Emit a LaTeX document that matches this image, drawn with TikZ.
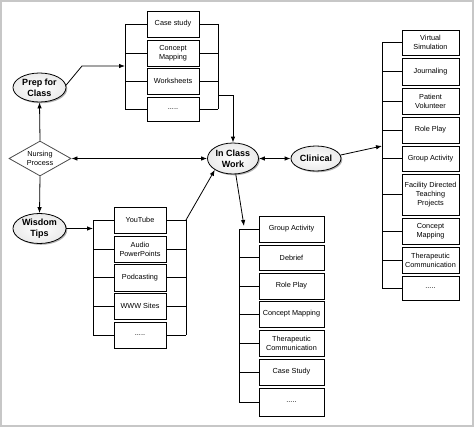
\documentclass[tikz,border=0pt]{standalone}
\usepackage{fontspec}
\setmainfont{Liberation Sans}
\usetikzlibrary{shapes.geometric,shadows,arrows.meta}
\tikzset{
  shadowed/.style={drop shadow={shadow xshift=1.3pt,shadow yshift=-1.3pt,fill=black!30,opacity=1}},
  item/.style={draw,fill=white,align=center,inner sep=1pt,shadowed,
    font=\fontsize{7.3}{9}\selectfont},
  topic/.style={ellipse,draw,inner sep=0pt,align=center,shadowed,
    inner color=white,outer color=black!8,font=\fontsize{9}{11}\selectfont\bfseries},
}
\begin{document}
\begin{tikzpicture}[x=1pt,y=-1pt,line width=0.8pt,>={Latex[length=6pt,width=4.5pt]}]
\useasboundingbox (0,0) rectangle (474,428);
\draw[black!22,line width=2pt] (1,1) rectangle (473,426);

\node[topic,minimum width=53pt,minimum height=29pt] (prep) at (39.5,87.5) {Prep for\\Class};
\node[diamond,draw=black!70,fill=white,aspect=1.77,minimum width=62pt,minimum height=35pt,
  inner sep=0pt,align=center,font=\fontsize{7.3}{9}\selectfont] (np) at (40,158.5) {Nursing\\Process};
\node[topic,minimum width=53pt,minimum height=30pt] (wis) at (39.5,228.5) {Wisdom\\Tips};
\node[topic,minimum width=51pt,minimum height=31pt] (icw) at (233,158.5) {In Class\\Work};
\node[topic,minimum width=50pt,minimum height=25pt] (cli) at (316,158.5) {Clinical};

\foreach \n/\y/\h/\t in {p1/24/26/Case study,p2/53/26/{Concept\\Mapping},p3/81/26/Worksheets,p4/109/24/{.....}}
  \node[item,minimum width=52pt,minimum height=\h] (\n) at (173,\y) {\t};
\foreach \n/\y/\h/\t in {w1/220/26/YouTube,w2/249/26/{Audio\\PowerPoints},w3/277.5/27/Podcasting,
    w4/306/26/WWW Sites,w5/335/26/{.....}}
  \node[item,minimum width=52pt,minimum height=\h] (\n) at (140,\y) {\t};
\foreach \n/\y/\h/\t in {i1/229/26/Group Activity,i2/257.5/25/Debrief,i3/286/26/Role Play,
    i4/314/26/Concept Mapping,i5/343/26/{Therapeutic\\Communication},i6/372/26/Case Study,i7/402/28/{.....}}
  \node[item,minimum width=65pt,minimum height=\h] (\n) at (291.5,\y) {\t};
\foreach \n/\y/\h/\t in {c1/42.5/25/{Virtual\\Simulation},c2/71.5/27/Journaling,c3/101/26/{Patient\\Volunteer},
    c4/130/26/Role Play,c5/158.5/25/Group Activity,c6/194.5/41/{Facility Directed\\Teaching\\Projects},
    c7/231/26/{Concept\\Mapping},c8/260/26/{Therapeutic\\Communication},c9/288/24/{.....}}
  \node[item,minimum width=57pt,minimum height=\h] (\n) at (430.5,\y) {\t};

\coordinate (pL) at (125,0);
\coordinate (pR) at (218,0);
\coordinate (wL) at (93,0);
\coordinate (wR) at (186,0);
\coordinate (iL) at (239,0);
\coordinate (cL) at (382,0);
\foreach \n in {p1,p2,p3,p4}
  \draw (\n.west) -- (\n.west -| pL) (\n.east) -- (\n.east -| pR);
\foreach \n in {w1,w2,w3,w4,w5}
  \draw (\n.west) -- (\n.west -| wL) (\n.east) -- (\n.east -| wR);
\foreach \n in {i1,i2,i3,i4,i5,i6,i7}
  \draw (\n.west) -- (\n.west -| iL);
\foreach \n in {c1,c2,c3,c4,c5,c6,c7,c8,c9}
  \draw (\n.west) -- (\n.west -| cL);
\draw (p1.west -| pL) -- (p4.west -| pL) (p1.east -| pR) -- (p4.east -| pR);
\draw (w1.west -| wL) -- (w5.west -| wL) (w1.east -| wR) -- (w5.east -| wR);
\draw (i1.west -| iL) -- (i7.west -| iL);
\draw (c1.west -| cL) -- (c9.west -| cL);

\coordinate (pIn) at (125,66);
\coordinate (pOut) at (218,95);
\coordinate (iIn) at (244,226);
\coordinate (cIn) at (382,146);
\draw[->] (np.north) -- (prep.south);
\draw[->] (np.south) -- (wis.north);
\draw[<->] (np.east) -- (icw.west);
\draw[<->] (icw.east) -- (cli.west);
\draw[->] (prep.5) -- (82,66) -- (pIn);
\draw[->] (pOut) -| (icw.north);
\draw[->] (wis.east) -- (wis.east -| wL);
\draw[->] (w1.east -| wR) -- (icw.212);
\draw[->] (icw.280) -- (iIn);
\draw[->] (cli.8) -- (cIn);
\end{tikzpicture}
\end{document}
